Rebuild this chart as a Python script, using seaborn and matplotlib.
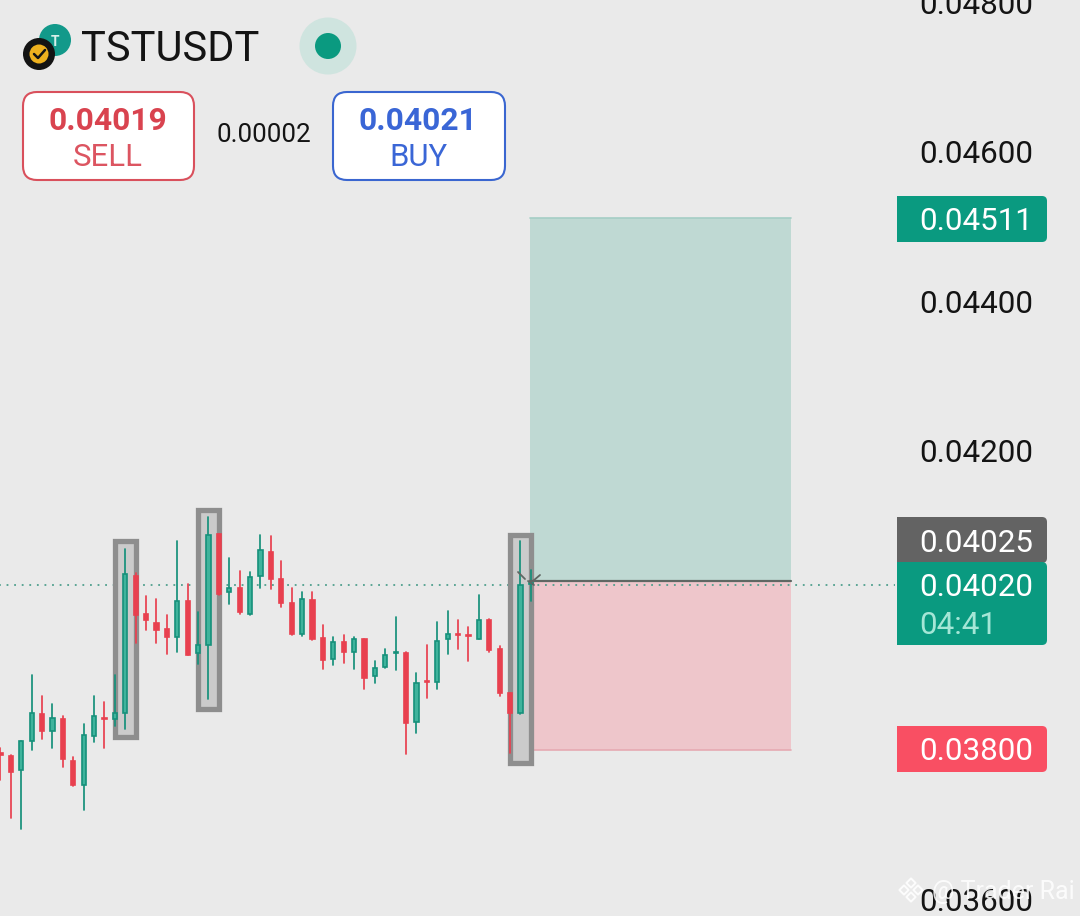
import matplotlib
matplotlib.use("Agg")
import matplotlib.pyplot as plt
import numpy as np
import pandas as pd
import seaborn as sns
from matplotlib.patches import Rectangle, FancyBboxPatch, Circle
from matplotlib.transforms import Affine2D

# candle values, in units of 0.00001
opens = [3794.9,3791.3,3772.6,3811.9,3847.5,3824.8,3840.8,3785.1,3752.6,3818.1,3841.7,3840.4,3849.3,4032.1,3980.9,3968.8,3961.7,3951.0,3999.1,3928.7,3939.8,4088.3,4010.7,4015.6,3981.3,4032.1,4064.6,4027.6,3996.4,3954.5,3999.5,3948.7,3920.6,3943.4,3930.0,3947.4,3897.9,3909.9,3928.6,3929.1,3836.8,3891.2,3890.3,3947.4,3954.1,3952.7,3948.3,3973.2,3934.0,3876.0,3848.4,4021.0]
highs = [3801.6,3792.7,3811.9,3899.7,3872.0,3860.5,3844.9,3790.5,3834.2,3871.6,3863.6,3899.7,4067.8,4035.7,4005.4,4001.4,3980.0,4078.5,4021.0,3984.4,4110.6,4088.3,4055.8,4038.8,4037.9,4087.0,4085.6,4052.2,4015.6,4010.2,4010.2,3966.5,3950.0,3952.7,3950.0,3947.8,3918.4,3934.0,3976.8,3930.0,3901.9,3939.8,3970.6,3985.3,3973.2,3963.4,4006.7,3974.6,3938.4,3876.0,4078.9,4040.1]
lows = [3759.2,3707.9,3693.2,3799.4,3813.6,3801.6,3777.1,3751.7,3719.1,3810.5,3801.6,3831.5,3827.9,3942.1,3959.9,3943.0,3927.3,3930.9,3926.0,3914.4,3867.6,4007.2,3994.2,3981.3,3980.4,4015.6,4014.3,3991.1,3953.2,3952.3,3946.0,3908.1,3913.5,3915.3,3908.1,3881.4,3889.4,3908.6,3906.3,3794.4,3821.6,3869.3,3880.5,3928.2,3934.4,3918.8,3947.4,3930.9,3872.0,3795.8,3847.5,3999.1]
closes = [3792.7,3770.4,3811.9,3849.3,3824.8,3842.6,3786.9,3752.6,3819.9,3845.3,3840.4,3849.3,4034.8,3979.5,3973.3,3959.9,3950.1,3999.1,3926.9,3940.3,4087.4,4008.0,4016.5,3984.4,4031.2,4066.9,4027.6,3996.4,3954.1,4000.9,3947.4,3919.7,3943.4,3930.0,3947.8,3895.2,3909.5,3926.0,3930.0,3835.0,3889.4,3889.8,3945.6,3954.1,3952.7,3951.4,3972.8,3933.5,3876.0,3849.3,4020.0,4022.3]
highlight_candles = [12, 20, 50]
highlight_tops = [4078.3, 4121.1, 4087.6]
highlight_bottoms = [3817.4, 3854.8, 3782.6]

tick_values = [0.048, 0.046, 0.044, 0.042, 0.036]
tick_labels = ["0.04800", "0.04600", "0.04400", "0.04200", "0.03600"]
entry_price = 0.04025
take_profit = 0.04511
stop_loss = 0.03800
last_price = 0.04020
countdown = "04:41"
symbol = "TSTUSDT"
sell_price, buy_price, spread = "0.04019", "0.04021", "0.00002"
position_start, position_end = 50.92, 76

BG = "#eaeaea"
GREEN = "#16917b"
GREEN_FILL = "#3fb39c"
RED = "#e8404f"
TEAL = "#0a9a80"

sns.set_theme(style="white", rc={"figure.facecolor": BG, "axes.facecolor": BG})
plt.rcParams["font.family"] = ["Roboto", "DejaVu Sans"]

fig = plt.figure(figsize=(10.8, 9.16), dpi=100)
ax = fig.add_axes([0, 0, 1, 1])
PX = Affine2D().scale(1, -1).translate(0, 916)

S = 1e-5
o, h, l, c = (np.array(v) * S for v in (opens, highs, lows, closes))
idx = np.arange(len(o))
up = c >= o

# position boxes
ax.add_patch(Rectangle((position_start, entry_price), position_end - position_start, take_profit - entry_price,
                       fc="#bfd9d3", ec="none", zorder=1))
ax.add_patch(Rectangle((position_start, stop_loss), position_end - position_start, entry_price - stop_loss,
                       fc="#eec6cb", ec="none", zorder=1))
ax.plot([position_start, position_end], [take_profit] * 2, color="#a5cec5", lw=1.2, zorder=1.5)
ax.plot([position_start, position_end], [stop_loss] * 2, color="#e6aab2", lw=1.2, zorder=1.5)
ax.plot([position_start, position_end], [entry_price] * 2, color="#5f6763", lw=1.6, zorder=4)

# last price dotted line
ax.plot([-1, 86], [last_price] * 2, color="#4f9f8d", lw=1.3, ls=(0, (1, 3.2)), zorder=1.6)

# highlights
for i, t, b in zip(highlight_candles, highlight_tops, highlight_bottoms):
    ax.add_patch(Rectangle((i - 1.0, b * S), 2.0, (t - b) * S, fc="#cbcbcb", ec="#8e8e8e", lw=3.8, zorder=2))

# wicks via seaborn
wicks = pd.DataFrame({
    "candle": np.r_[idx, idx],
    "price": np.r_[l, h],
    "dir": np.r_[up, up],
})
sns.lineplot(data=wicks, x="candle", y="price", hue="dir", units="candle", estimator=None,
             palette={True: GREEN, False: RED}, lw=1.25, legend=False, ax=ax, zorder=3)
# bodies
bot = np.minimum(o, c)
height = np.abs(c - o)
ax.bar(idx[up], height[up], bottom=bot[up], width=0.42, fc=GREEN_FILL, ec=GREEN, lw=1.2, zorder=3.2)
ax.bar(idx[~up], height[~up], bottom=bot[~up], width=0.42, fc=RED, ec=RED, lw=1.2, zorder=3.2)

# entry arrows (small ticks next to the last candle)
ax.plot([518, 525], [572, 579], color="#5f6763", lw=1.3, transform=PX, zorder=4)
ax.plot([533, 540], [581, 575], color="#5f6763", lw=1.3, transform=PX, zorder=4)
ax.plot([528, 534], [581, 585], color="#5f6763", lw=1.3, transform=PX, zorder=4)

ax.set_xlim(-0.048, 103.8)
ax.set_ylim(0.035773, 0.048027)
ax.set_xlabel("")
ax.set_ylabel("")
ax.set_xticks([])
ax.yaxis.tick_right()
ax.set_yticks(tick_values, tick_labels)
ax.tick_params(axis="y", length=0, pad=-115.9, labelsize=22.6, labelcolor="#141414")
for lab in ax.get_yticklabels():
    lab.set_ha("left")
for s in ax.spines.values():
    s.set_visible(False)


def flat_box(x0, y0, x1, y1, color, z=5):
    r = 5
    ax.add_patch(FancyBboxPatch((x0 + r, y0 + r), x1 - x0 - 2 * r, y1 - y0 - 2 * r,
                                boxstyle=f"round,pad={r},rounding_size={r}", fc=color, ec="none",
                                transform=PX, zorder=z))
    ax.add_patch(Rectangle((x0, y0), 10, y1 - y0, fc=color, ec="none", transform=PX, zorder=z))


def label(x, y, s, color="white", size=22.6, ha="left", weight="normal", alpha=None, z=6):
    ax.text(x, y, s, color=color, fontsize=size, ha=ha, va="center_baseline", fontweight=weight,
            transform=PX, zorder=z, alpha=alpha)


flat_box(897, 196, 1047, 242, TEAL)
label(919.5, 218.5, f"{take_profit:.5f}")
flat_box(897, 517, 1047, 563, "#636363")
label(919.5, 540, f"{entry_price:.5f}")
flat_box(897, 562, 1047, 645, TEAL, z=5.1)
label(919.5, 584.5, f"{last_price:.5f}", z=6)
label(919.5, 622.5, countdown, color="#a4e6d6")
flat_box(897, 726, 1047, 772, "#f94f63")
label(919.5, 748.5, f"{stop_loss:.5f}")

# header
label(81.5, 45, symbol, color="#141414", size=30)
ax.add_patch(Circle((55, 40), 16, fc="#12998a", ec="none", transform=PX, zorder=6))
label(55, 40, "T", color="#d8f0ea", size=10, ha="center", weight="bold", z=6.1)
ax.add_patch(Circle((39, 54), 16, fc="#141414", ec="none", transform=PX, zorder=6.2))
ax.add_patch(Circle((39, 54), 9.5, fc="#eeb11e", ec="none", transform=PX, zorder=6.3))
ax.plot([34, 38, 45], [54, 58, 50], color="#141414", lw=1.8, transform=PX, zorder=6.4)
ax.add_patch(Circle((328, 46), 28.5, fc="#cfe4df", ec="none", transform=PX, zorder=6))
ax.add_patch(Circle((328, 46), 13, fc=TEAL, ec="none", transform=PX, zorder=6.1))

# buttons
for x0, x1, col in [(23, 194, "#d9505c"), (333, 505, "#3a66d0")]:
    ax.add_patch(FancyBboxPatch((x0 + 14, 92 + 14), x1 - x0 - 28, 88 - 28,
                                boxstyle="round,pad=14,rounding_size=14", fc="white", ec=col, lw=1.5,
                                transform=PX, zorder=6))
label(108, 118.5, sell_price, color="#d9434f", size=22.9, ha="center", weight="bold", z=7)
label(108, 154, "SELL", color="#dc5561", size=22.4, ha="center", z=7)
label(418, 118.5, buy_price, color="#3a66d6", size=22.9, ha="center", weight="bold", z=7)
label(418, 154, "BUY", color="#3a66d6", size=22.4, ha="center", z=7)
label(264, 133, spread, color="#141414", size=18.7, ha="center", z=7)

# watermark
label(932, 889, "@ Trader Rai", color="white", size=18, alpha=0.85, z=8)
ax.scatter([911, 904, 918, 911], [883, 890, 890, 897], marker="D", s=22, fc="none", ec="white",
           lw=1.4, alpha=0.9, transform=PX, zorder=8)

fig.savefig("out.png", dpi=100, facecolor=BG)
